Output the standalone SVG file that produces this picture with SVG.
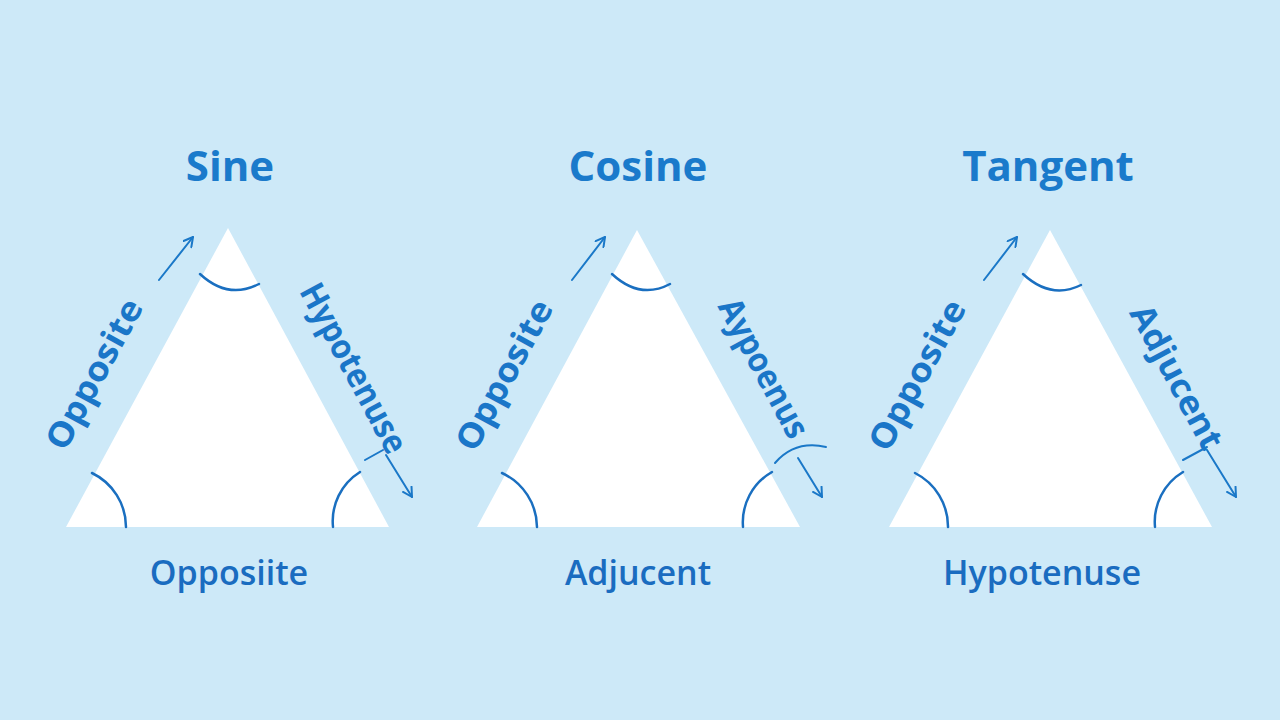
<svg xmlns="http://www.w3.org/2000/svg" width="1280" height="720" viewBox="0 0 1280 720">
<defs>
<marker id="ah" viewBox="0 0 12 12" refX="10" refY="6" markerWidth="12" markerHeight="12" markerUnits="userSpaceOnUse" orient="auto">
<path d="M1,1 L10,6 L1,11" fill="none" stroke="#1a78c8" stroke-width="2" stroke-linecap="round" stroke-linejoin="round"/>
</marker>
<style>
.tri{fill:#ffffff}
.arc{fill:none;stroke:#1a6fc0;stroke-width:2.5;stroke-linecap:round}
.arr{fill:none;stroke:#1a78c8;stroke-width:2;stroke-linecap:round}
.title{font-family:"Open Sans","Noto Sans",sans-serif;font-weight:700;font-size:42px;fill:#1a7acb;text-anchor:middle}
.side{font-family:"Open Sans","Noto Sans",sans-serif;font-weight:700;font-size:34px;fill:#1a76c8;text-anchor:middle}
.base{font-family:"Open Sans","Noto Sans",sans-serif;font-weight:600;font-size:34px;fill:#1a6cc0;text-anchor:middle}
</style>
</defs>
<rect width="1280" height="720" fill="#cde9f8"/>

<g id="sine">
<polygon class="tri" points="66,527 228,228 389,527"/>
<path class="arc" d="M200,274 Q228,300 259,284"/>
<path class="arc" d="M92,473 A60 60 0 0 1 126,527"/>
<path class="arc" d="M360,472 A58 58 0 0 0 333,527"/>
<text class="title" x="230" y="181">Sine</text>
<text class="side" transform="translate(94,374) rotate(-61.5)" y="12" textLength="166" lengthAdjust="spacingAndGlyphs">Opposite</text>
<text class="side" transform="translate(354,368) rotate(61.7)" y="12" textLength="188" lengthAdjust="spacingAndGlyphs">Hypotenuse</text>
<text class="base" x="229" y="585">Opposiite</text>
</g>

<g id="cosine">
<polygon class="tri" points="477,527 637,230 800,527"/>
<path class="arc" d="M612,274 Q640,300 670,284"/>
<path class="arc" d="M502,473 A60 60 0 0 1 537,527"/>
<path class="arc" d="M772,472 A58 58 0 0 0 743,527"/>
<text class="title" x="638" y="181">Cosine</text>
<text class="side" transform="translate(504,375) rotate(-61.5)" y="12" textLength="166" lengthAdjust="spacingAndGlyphs">Opposite</text>
<text class="side" transform="translate(764,368) rotate(61.7)" y="12" textLength="153" lengthAdjust="spacingAndGlyphs">Aypoenus</text>
<text class="base" x="638" y="585">Adjucent</text>
</g>

<g id="tangent">
<polygon class="tri" points="889,527 1050,230 1212,527"/>
<path class="arc" d="M1023,274 Q1051,300 1081,285"/>
<path class="arc" d="M915,473 A60 60 0 0 1 948,527"/>
<path class="arc" d="M1183,472 A58 58 0 0 0 1155,527"/>
<text class="title" x="1048" y="181">Tangent</text>
<text class="side" transform="translate(917,375) rotate(-61.5)" y="12" textLength="166" lengthAdjust="spacingAndGlyphs">Opposite</text>
<text class="side" transform="translate(1177,377) rotate(61.7)" y="12" textLength="159" lengthAdjust="spacingAndGlyphs">Adjucent</text>
<text class="base" x="1042" y="585">Hypotenuse</text>
</g>

<g id="connectors">
<line class="arr" x1="159" y1="280" x2="193" y2="237" marker-end="url(#ah)"/>
<line class="arr" x1="386" y1="455" x2="412" y2="497" marker-end="url(#ah)"/>
<line class="arr" x1="365" y1="460" x2="383" y2="450"/>
<line class="arr" x1="572" y1="280" x2="605" y2="237" marker-end="url(#ah)"/>
<line class="arr" x1="798" y1="458" x2="822" y2="497" marker-end="url(#ah)"/>
<path class="arr" d="M775,463 Q795,440 826,447"/>
<line class="arr" x1="984" y1="280" x2="1017" y2="237" marker-end="url(#ah)"/>
<line class="arr" x1="1207" y1="450" x2="1236" y2="497" marker-end="url(#ah)"/>
<line class="arr" x1="1183" y1="460" x2="1207" y2="447"/>
</g>
</svg>
